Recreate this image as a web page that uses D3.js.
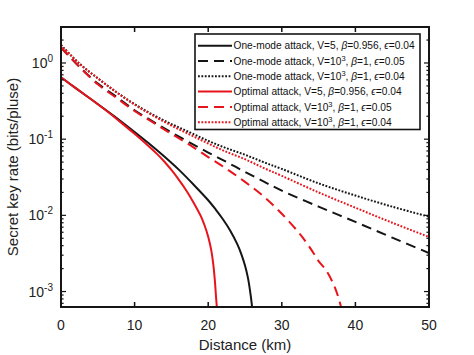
<!DOCTYPE html>
<html><head><meta charset="utf-8">
<script src="https://cdn.jsdelivr.net/npm/d3@7/dist/d3.min.js"></script>
<style>
html,body{margin:0;padding:0;background:#fff;}
svg{display:block;font-family:"Liberation Sans",Arial,Helvetica,sans-serif;}
</style></head>
<body>
<svg id="chart" width="474" height="355"></svg>
<script>
// ---- data ----
const xTicks = [0,10,20,30,40,50];
const yTickExps = [0,-1,-2,-3];

const kmLong = [0,2.5,5,7.5,10,12.5,15,17.5,20,22.5,25,27.5,30,35,40,45,50];
const oneModeV1e3Eps004 = [1.72,0.98,0.63,0.417,0.288,0.209,0.158,0.123,0.095,0.076,0.0624,0.050,0.0407,0.0263,0.0182,0.0130,0.0096];
const optimalV1e3Eps004 = [1.72,0.98,0.63,0.415,0.284,0.204,0.151,0.115,0.0877,0.068,0.0546,0.042,0.0330,0.0200,0.0126,0.0080,0.0052];
const oneModeV1e3Eps005 = [1.6,0.89,0.537,0.363,0.24,0.17,0.123,0.090,0.0668,0.0501,0.0372,0.0279,0.0211,0.0130,0.0082,0.0051,0.0032];

const kmOptDash = [0,2.5,5,7.5,10,12.5,15,17.5,20,22.5,25,27.5,30,32.5,34,35,36,37,37.7,38.3];
const optimalV1e3Eps005 = [1.6,0.89,0.525,0.351,0.234,0.166,0.1175,0.0841,0.0582,0.0407,0.0275,0.0178,0.0105,0.00562,0.00355,0.00251,0.00191,0.00126,0.00083,0.0005];

const kmOneSolid = [0,2,4,6,8,10,12,14,16,18,20,21,22,23,24,24.5,25,25.4,25.7,25.9,26.05];
const oneModeV5 = [0.65,0.468,0.339,0.245,0.176,0.1245,0.0871,0.0596,0.0398,0.0254,0.0158,0.0120,0.0089,0.0063,0.0041,0.0031,0.00219,0.00151,0.0010,0.00071,0.0005];

const kmOptSolid = [0,2,4,6,8,10,12,13,14,15,16,17,18,19,19.5,20,20.4,20.7,20.9,21.05,21.25];
const optimalV5 = [0.65,0.468,0.339,0.243,0.170,0.1175,0.0794,0.0646,0.0513,0.0394,0.0295,0.0214,0.0148,0.00977,0.00741,0.00525,0.00355,0.00224,0.00141,0.00089,0.0005];

const BLACK = "#151515", RED = "#e8141c";
const series = [
  {name:["One-mode attack, V=5, ","β","=0.956, ","ϵ","=0.04"], x:kmOneSolid, y:oneModeV5, color:BLACK, dash:null},
  {name:["One-mode attack, V=10","3",", ","β","=1, ","ϵ","=0.05"], x:kmLong, y:oneModeV1e3Eps005, color:BLACK, dash:"10,6"},
  {name:["One-mode attack, V=10","3",", ","β","=1, ","ϵ","=0.04"], x:kmLong, y:oneModeV1e3Eps004, color:BLACK, dash:"1.8,1.6"},
  {name:["Optimal attack, V=5, ","β","=0.956, ","ϵ","=0.04"], x:kmOptSolid, y:optimalV5, color:RED, dash:null},
  {name:["Optimal attack, V=10","3",", ","β","=1, ","ϵ","=0.05"], x:kmOptDash, y:optimalV1e3Eps005, color:RED, dash:"10,6"},
  {name:["Optimal attack, V=10","3",", ","β","=1, ","ϵ","=0.04"], x:kmLong, y:optimalV1e3Eps004, color:RED, dash:"1.8,1.6"}
];

// ---- layout ----
const L = 61, R = 429, T = 27, B = 307;
const svg = d3.select("#chart");
const x = d3.scaleLinear().domain([0,50]).range([L,R]);
const y = d3.scaleLog().domain([Math.pow(10,-3.203), Math.pow(10,0.4724)]).range([B,T]);

svg.append("clipPath").attr("id","clip").append("rect")
  .attr("x",L).attr("y",T).attr("width",R-L).attr("height",B-T);

// curves
const line = d3.line().x(d=>x(d[0])).y(d=>y(d[1])).curve(d3.curveCatmullRom.alpha(0.5));
const g = svg.append("g").attr("clip-path","url(#clip)");
series.forEach(s=>{
  const pts = s.x.map((v,i)=>[v,s.y[i]]);
  g.append("path").datum(pts).attr("d",line)
    .attr("fill","none").attr("stroke",s.color).attr("stroke-width",2)
    .attr("stroke-dasharray",s.dash);
});

// axes (ticks inside, box)
const ax = svg.append("g");
const major = 5, minor = 2.6;
xTicks.forEach(t=>{
  ax.append("line").attr("x1",x(t)).attr("x2",x(t)).attr("y1",B).attr("y2",B-major).attr("stroke","#111").attr("stroke-width",1.5);
  ax.append("line").attr("x1",x(t)).attr("x2",x(t)).attr("y1",T).attr("y2",T+major).attr("stroke","#111").attr("stroke-width",1.5);
  ax.append("text").attr("x",x(t)).attr("y",330).attr("text-anchor","middle")
    .attr("font-size",14).attr("fill","#222").text(t);
});
const [ylo, yhi] = y.domain();
for (let e=-4; e<=0; e++){
  for (let m=1; m<=9; m++){
    const v = m*Math.pow(10,e);
    if (v<ylo || v>yhi) continue;
    const len = m===1 ? major : minor;
    ax.append("line").attr("x1",L).attr("x2",L+len).attr("y1",y(v)).attr("y2",y(v)).attr("stroke","#111").attr("stroke-width",1.2);
    ax.append("line").attr("x1",R).attr("x2",R-len).attr("y1",y(v)).attr("y2",y(v)).attr("stroke","#111").attr("stroke-width",1.2);
  }
}
yTickExps.forEach(e=>{
  const t = ax.append("text").attr("x",53).attr("y",y(Math.pow(10,e))+5)
    .attr("text-anchor","end").attr("font-size",14).attr("fill","#222");
  t.append("tspan").text("10");
  t.append("tspan").attr("font-size",10).attr("dy",-6).text(String(e));
});
ax.append("rect").attr("x",L).attr("y",T).attr("width",R-L).attr("height",B-T)
  .attr("fill","none").attr("stroke","#151515").attr("stroke-width",2);

// axis titles
svg.append("text").attr("x",(L+R)/2).attr("y",350).attr("text-anchor","middle")
  .attr("font-size",15).attr("fill","#222").text("Distance (km)");
svg.append("text").attr("transform",`translate(18,${(T+B)/2}) rotate(-90)`)
  .attr("text-anchor","middle").attr("font-size",15).attr("fill","#222")
  .text("Secret key rate (bits/pluse)");

// legend
const lg = svg.append("g");
const LX = 195, LY = 34, LW = 225, LH = 95.5;
lg.append("rect").attr("x",LX).attr("y",LY).attr("width",LW).attr("height",LH)
  .attr("fill","#fff").attr("stroke","#151515").attr("stroke-width",1.6);
series.forEach((s,i)=>{
  const cy = 45.7 + i*15.3;
  lg.append("line").attr("x1",198).attr("x2",232).attr("y1",cy).attr("y2",cy)
    .attr("stroke",s.color).attr("stroke-width",2).attr("stroke-dasharray",s.dash);
  const t = lg.append("text").attr("x",233.5).attr("y",cy+3.6).attr("font-size",10.2).attr("fill","#111");
  let sup = false;
  s.name.forEach(part=>{
    if (part==="β" || part==="ϵ"){
      t.append("tspan").attr("font-style","italic").attr("dy", sup? 4:null).text(part);
      sup=false;
    } else if (part==="3"){
      t.append("tspan").attr("font-size",7.5).attr("dy",-4).text(part);
      sup=true;
    } else {
      t.append("tspan").attr("dy", sup? 4:null).text(part);
      sup=false;
    }
  });
});
</script>
</body></html>
